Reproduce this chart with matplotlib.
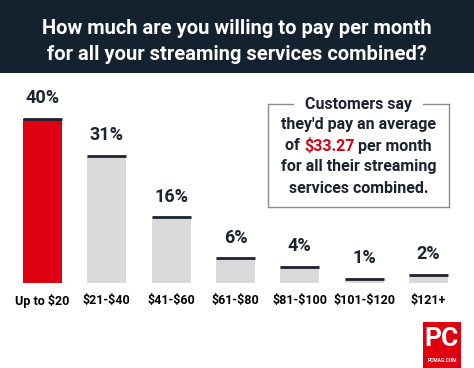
import matplotlib
matplotlib.use("Agg")
import matplotlib.pyplot as plt
from matplotlib.patches import Rectangle
from matplotlib.lines import Line2D

plt.rcParams["font.family"] = ["Roboto", "DejaVu Sans"]
plt.rcParams["text.parse_math"] = False

categories = ["Up to $20", "$21-$40", "$41-$60", "$61-$80", "$81-$100", "$101-$120", "$121+"]
shares = [40, 31, 16, 6, 4, 1, 2]
title_lines = ["How much are you willing to pay per month",
               "for all your streaming services combined?"]
avg_price = "$33.27"

NAVY = "#14212f"
INK = "#1b2330"
RED = "#de0010"
GRAY = "#d9d9d9"

W, H = 474, 368
fig = plt.figure(figsize=(W / 100, H / 100), dpi=100)
fig.patch.set_facecolor("white")


def px(x, y):
    # pixel position from top-left -> figure fraction
    return x / W, 1 - y / H


# header band
fig.patches.append(Rectangle((0, 1 - 73 / H), 1, 73 / H, transform=fig.transFigure,
                             facecolor=NAVY, edgecolor="none", zorder=0))
for i, line in enumerate(title_lines):
    fig.text(0.5, px(0, 29 + 25 * i)[1], line, ha="center", va="center",
             color="white", fontsize=14.5, fontweight="bold")

# bars
ax = fig.add_axes([10.3 / W, 85 / H, 450.3 / W, 205 / H])
x = list(range(len(categories)))
colors = [RED] + [GRAY] * (len(categories) - 1)
bw = 0.606
ax.bar(x, shares, width=bw, color=colors, zorder=1)
ax.hlines(shares, [i - bw / 2 for i in x], [i + bw / 2 for i in x],
          color=INK, linewidth=2.0, zorder=2)
for i, v in zip(x, shares):
    ax.annotate(f"{v}%", (i, v), xytext=(0, 15), textcoords="offset points",
                ha="center", va="center", fontsize=13, fontweight="bold", color=INK)
ax.set_xlim(-0.5, len(categories) - 0.5)
ax.set_ylim(0, 50)
ax.set_xticks(x, categories)
ax.tick_params(axis="x", length=0, pad=8, labelsize=9, labelcolor="black")
for lab in ax.get_xticklabels():
    lab.set_fontweight("bold")
ax.set_yticks([])
for s in ax.spines.values():
    s.set_visible(False)
ax.patch.set_alpha(0)

# callout box
bx0, bx1, by0, by1 = 268, 449, 104, 207
box_kw = dict(color="#8c8c8c", linewidth=1.0)
for (xa, ya), (xb, yb) in [((bx0, by0), (293, by0)), ((423, by0), (bx1, by0)),
                           ((bx0, by0), (bx0, by1)), ((bx1, by0), (bx1, by1)),
                           ((bx0, by1), (bx1, by1))]:
    p0, p1 = px(xa, ya), px(xb, yb)
    fig.add_artist(Line2D([p0[0], p1[0]], [p0[1], p1[1]], **box_kw))

cx = (bx0 + bx1) / 2
txt_kw = dict(fontsize=11.5, fontweight="bold", color=INK, va="center")
box_lines = ["Customers say", "they'd pay an average", None,
             "for all their streaming", "services combined."]
for i, line in enumerate(box_lines):
    if line is None:
        continue
    fig.text(*px(cx, 104 + 21 * i), line, ha="center", **txt_kw)

# mixed colour line: "of $33.27 per month"
parts = [("of ", INK), (avg_price, RED), (" per month", INK)]
renderer = fig.canvas.get_renderer()
texts = []
for s, c in parts:
    t = fig.text(0, px(0, 146)[1], s, ha="left", **{**txt_kw, "color": c})
    texts.append(t)
widths = [t.get_window_extent(renderer).width for t in texts]
start = cx - sum(widths) / 2
for t, w in zip(texts, widths):
    t.set_x(start / W)
    start += w

# PC logo
fig.patches.append(Rectangle(px(423, 370), 38 / W, 48 / H, transform=fig.transFigure,
                             facecolor=RED, edgecolor="none"))
fig.text(*px(442, 339), "PC", ha="center", va="center", color="white",
         fontsize=19, fontweight="bold")
fig.text(*px(442, 361), "PCMAG.COM", ha="center", va="center", color="white",
         fontsize=3.5, fontweight="bold")

fig.savefig("out.png", dpi=100)
